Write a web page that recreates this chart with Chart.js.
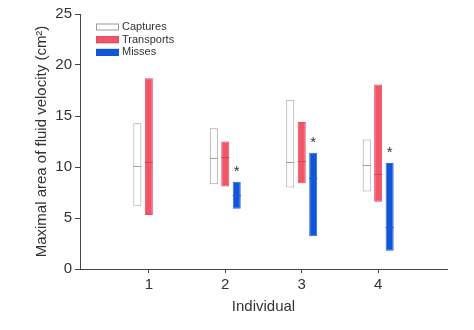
<!DOCTYPE html>
<html>
<head>
<meta charset="utf-8">
<script src="https://cdn.jsdelivr.net/npm/chart.js@4"></script>
<style>
  html, body { margin: 0; padding: 0; background: #fff; }
  #wrap { width: 474px; height: 330px; }
</style>
</head>
<body>
<div id="wrap"><canvas id="box-chart"></canvas></div>
<script>
const individuals = [1, 2, 3, 4];
const yTicks = [0, 5, 10, 15, 20, 25];

const capturesMin = [6.2, 8.3, 8.0, 7.6];
const capturesMax = [14.3, 13.8, 16.6, 12.7];
const capturesMed = [10.1, 10.85, 10.5, 10.2];

const transportsMin = [5.3, 8.1, 8.4, 6.6];
const transportsMax = [18.7, 12.5, 14.4, 18.1];
const transportsMed = [10.5, 10.95, 10.6, 9.3];

const missesMin = [null, 5.9, 3.2, 1.8];
const missesMax = [null, 8.55, 11.4, 10.4];
const missesMed = [null, 7.3, 8.9, 4.1];

const significant = [false, true, true, true];

const toRange = (mins, maxs) => individuals.map((x, i) =>
    mins[i] == null ? { x: x, y: null } : { x: x, y: [mins[i], maxs[i]] });

const medianColors = ["#a0a0a0", "#c4475a", "#1c5bd6"];
const medians = [capturesMed, transportsMed, missesMed];

const medianPlugin = {
    id: "medians",
    afterDatasetsDraw(chart) {
        const ctx = chart.ctx;
        const yScale = chart.scales.y;
        ctx.save();
        chart.data.datasets.forEach((ds, d) => {
            const meta = chart.getDatasetMeta(d);
            meta.data.forEach((bar, i) => {
                const m = medians[d][i];
                if (m == null) return;
                const y = Math.round(yScale.getPixelForValue(m)) + 0.5;
                ctx.strokeStyle = medianColors[d];
                ctx.lineWidth = 1;
                ctx.beginPath();
                ctx.moveTo(bar.x - bar.width / 2, y);
                ctx.lineTo(bar.x + bar.width / 2, y);
                ctx.stroke();
            });
        });
        // asterisks above misses
        const missMeta = chart.getDatasetMeta(2);
        ctx.fillStyle = "#333";
        ctx.font = "15px 'Liberation Sans', Arial, sans-serif";
        ctx.textAlign = "center";
        ctx.textBaseline = "middle";
        missMeta.data.forEach((bar, i) => {
            if (!significant[i] || missesMax[i] == null) return;
            const y = yScale.getPixelForValue(missesMax[i]) - 10;
            ctx.fillText("*", bar.x, y);
        });
        ctx.restore();
    }
};

const legendItems = [
    { label: "Captures", fill: "#ffffff", stroke: "#9a9a9a" },
    { label: "Transports", fill: "#f25468", stroke: "#e04a5e" },
    { label: "Misses", fill: "#1156d8", stroke: "#1156d8" },
];

const legendPlugin = {
    id: "boxLegend",
    afterDraw(chart) {
        const ctx = chart.ctx;
        const a = chart.chartArea;
        ctx.save();
        ctx.font = "11px 'Liberation Sans', Arial, sans-serif";
        ctx.textBaseline = "middle";
        ctx.textAlign = "left";
        legendItems.forEach((it, i) => {
            const x = a.left + 16;
            const y = a.top + 13 + i * 12.7;
            ctx.fillStyle = it.fill;
            ctx.fillRect(x, y - 3.5, 23, 7);
            ctx.strokeStyle = it.stroke;
            ctx.lineWidth = 1;
            ctx.strokeRect(x + 0.5, y - 3.5 + 0.5, 22, 6);
            ctx.fillStyle = "#333";
            ctx.fillText(it.label, x + 26, y);
        });
        ctx.restore();
    }
};

Chart.defaults.font.family = "'Liberation Sans', Arial, sans-serif";
Chart.defaults.color = "#333";

const ctxBox = document.getElementById("box-chart").getContext("2d");
const boxChart = new Chart(ctxBox, {
    type: "bar",
    data: {
        datasets: [
            {
                label: "Captures",
                data: toRange(capturesMin, capturesMax),
                backgroundColor: "#ffffff",
                borderColor: "#a0a0a0",
                borderWidth: 1,
                borderSkipped: false,
            },
            {
                label: "Transports",
                data: toRange(transportsMin, transportsMax),
                backgroundColor: "#f25468",
                borderColor: "#e04a5e",
                borderWidth: 1,
                borderSkipped: false,
            },
            {
                label: "Misses",
                data: toRange(missesMin, missesMax),
                backgroundColor: "#1156d8",
                borderColor: "#2a66dc",
                borderWidth: 1,
                borderSkipped: false,
            },
        ],
    },
    options: {
        responsive: true,
        maintainAspectRatio: false,
        animation: false,
        categoryPercentage: 0.45,
        barPercentage: 0.7,
        layout: { padding: { left: 0, top: 14, right: 27, bottom: 0 } },
        plugins: {
            legend: { display: false },
            tooltip: { enabled: false },
        },
        scales: {
            x: {
                type: "linear",
                min: 0.1,
                max: 4.9,
                offset: false,
                afterFit(scale) { scale.height = 61; },
                afterBuildTicks(scale) {
                    scale.ticks = individuals.map(v => ({ value: v }));
                },
                ticks: {
                    stepSize: 1,
                    includeBounds: false,
                    padding: 3,
                    font: { size: 15 },
                    color: "#333",
                },
                grid: { drawOnChartArea: false, offset: false, tickLength: 4, color: "#444" },
                border: { color: "#444", width: 1 },
                title: {
                    display: true,
                    text: "Individual",
                    font: { size: 15 },
                    color: "#333",
                    padding: { top: 4, bottom: 14 },
                },
            },
            y: {
                min: 0,
                max: 25,
                afterFit(scale) { scale.width = 80; },
                afterBuildTicks(scale) {
                    scale.ticks = yTicks.map(v => ({ value: v }));
                },
                ticks: { padding: 3, font: { size: 15 }, color: "#333" },
                grid: { drawOnChartArea: false, tickLength: 5, color: "#444" },
                border: { color: "#444", width: 1 },
                title: {
                    display: true,
                    text: "Maximal area of fluid velocity (cm²)",
                    font: { size: 15 },
                    color: "#333",
                    padding: { top: 33, bottom: 0 },
                },
            },
        },
    },
    plugins: [medianPlugin, legendPlugin],
});
</script>
</body>
</html>
